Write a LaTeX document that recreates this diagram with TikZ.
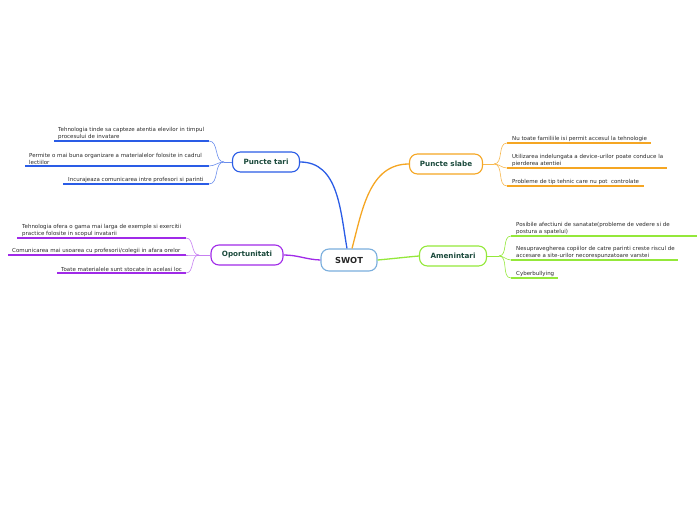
\documentclass[tikz,border=0pt]{standalone}
\usepackage{fontspec}
\setmainfont{DejaVu Sans}
\definecolor{cblue}{HTML}{2A5CE6}
\definecolor{corange}{HTML}{F5A623}
\definecolor{cgreen}{HTML}{94E83A}
\definecolor{cpurple}{HTML}{A02AE8}
\definecolor{cswot}{HTML}{7AAEDD}
\definecolor{ctitle}{HTML}{1B4A3C}
\definecolor{cleaf}{HTML}{2A2A2A}
\begin{document}
\begin{tikzpicture}[x=1pt,y=-1pt,
  topic/.style={draw=#1,line width=1.1pt,rounded corners=8pt,fill=white,
    minimum height=20pt,inner sep=0pt,font=\fontsize{7.2}{8}\selectfont\bfseries,text=ctitle},
  leaf/.style={anchor=south west,align=left,inner sep=0pt,
    font=\fontsize{5.5}{7}\selectfont,text=cleaf},
  uline/.style={draw=#1,line width=1.4pt},
  twig/.style={draw=#1,line width=0.6pt},
  main/.style={draw=#1,line width=1.3pt}]
\useasboundingbox (0,0) rectangle (697,520);

% central
\node[topic=cswot,minimum width=56pt,minimum height=22pt,text=black!85,
  font=\fontsize{8.3}{9}\selectfont\bfseries] (swot) at (349,260) {SWOT};

% topics
\node[topic=cblue,minimum width=67pt] (tari) at (266,162) {Puncte tari};
\node[topic=corange,minimum width=73pt] (slabe) at (446,164) {Puncte slabe};
\node[topic=cgreen,minimum width=67pt] (amen) at (453,256) {Amenintari};
\node[topic=cpurple,minimum width=72pt] (opor) at (247,255) {Oportunitati};

% main connectors
\draw[main=cblue] ([xshift=-2pt]swot.north) to[out=100,in=0] (tari.east);
\draw[main=corange] ([xshift=3pt]swot.north) to[out=75,in=180] (slabe.west);
\draw[main=cgreen] (swot.east) to[out=5,in=185] (amen.west);
\draw[main=cpurple] (swot.west) to[out=178,in=0] (opor.east);

% ---- Puncte tari leaves
\coordinate (tb) at (224,162);
\draw[twig=cblue!70] (tari.west) -- (tb);
\node[leaf] (t1) at (58,139.5) {Tehnologia tinde sa capteze atentia elevilor in timpul\\procesului de invatare};
\coordinate (t1a) at (54,141); \coordinate (t1b) at (209,141);
\node[leaf] (t2) at (29,164.5) {Permite o mai buna organizare a materialelor folosite in cadrul\\lectiilor};
\coordinate (t2a) at (25,166); \coordinate (t2b) at (209,166);
\node[leaf] (t3) at (68,182.5) {Incurajeaza comunicarea intre profesori si parinti};
\coordinate (t3a) at (63,184); \coordinate (t3b) at (209,184);
\foreach \i in {1,2,3}{
  \draw[uline=cblue] (t\i a) -- (t\i b);
  \draw[twig=cblue!70] (tb) to[out=180,in=0] (t\i b);
}

% ---- Puncte slabe leaves
\coordinate (sb) at (494,164);
\draw[twig=corange!80] (slabe.east) -- (sb);
\node[leaf] (s1) at (512,141.5) {Nu toate familiile isi permit accesul la tehnologie};
\coordinate (s1a) at (507,143); \coordinate (s1b) at (651,143);
\node[leaf] (s2) at (512,166.5) {Utilizarea indelungata a device-urilor poate conduce la\\pierderea atentiei};
\coordinate (s2a) at (507,168); \coordinate (s2b) at (667,168);
\node[leaf] (s3) at (512,184.5) {Probleme de tip tehnic care nu pot\ \ controlate};
\coordinate (s3a) at (507,186); \coordinate (s3b) at (644,186);
\foreach \i in {1,2,3}{
  \draw[uline=corange] (s\i a) -- (s\i b);
  \draw[twig=corange!80] (sb) to[out=0,in=180] (s\i a);
}

% ---- Amenintari leaves
\coordinate (ab) at (499,256);
\draw[twig=cgreen] (amen.east) -- (ab);
\node[leaf] (a1) at (516,234.5) {Posibile afectiuni de sanatate(probleme de vedere si de\\postura a spatelui)};
\coordinate (a1a) at (511,236); \coordinate (a1b) at (697,236);
\node[leaf] (a2) at (516,258.5) {Nesupravegherea copiilor de catre parinti creste riscul de\\accesare a site-urilor necorespunzatoare varstei};
\coordinate (a2a) at (511,260); \coordinate (a2b) at (678,260);
\node[leaf] (a3) at (516,276.5) {Cyberbullying};
\coordinate (a3a) at (511,278); \coordinate (a3b) at (558,278);
\foreach \i in {1,2,3}{
  \draw[uline=cgreen] (a\i a) -- (a\i b);
  \draw[twig=cgreen] (ab) to[out=0,in=180] (a\i a);
}

% ---- Oportunitati leaves
\coordinate (ob) at (199,255);
\draw[twig=cpurple!60] (opor.west) -- (ob);
\node[leaf] (o1) at (22,236.5) {Tehnologia ofera o gama mai larga de exemple si exercitii\\practice folosite in scopul invatarii};
\coordinate (o1a) at (17,238); \coordinate (o1b) at (186,238);
\node[leaf] (o2) at (12,253.5) {Comunicarea mai usoarea cu profesorii/colegii in afara orelor};
\coordinate (o2a) at (8,255); \coordinate (o2b) at (186,255);
\node[leaf] (o3) at (61,271.5) {Toate materialele sunt stocate in acelasi loc};
\coordinate (o3a) at (57,273); \coordinate (o3b) at (186,273);
\foreach \i in {1,2,3}{
  \draw[uline=cpurple] (o\i a) -- (o\i b);
  \draw[twig=cpurple!60] (ob) to[out=180,in=0] (o\i b);
}
\end{tikzpicture}
\end{document}
